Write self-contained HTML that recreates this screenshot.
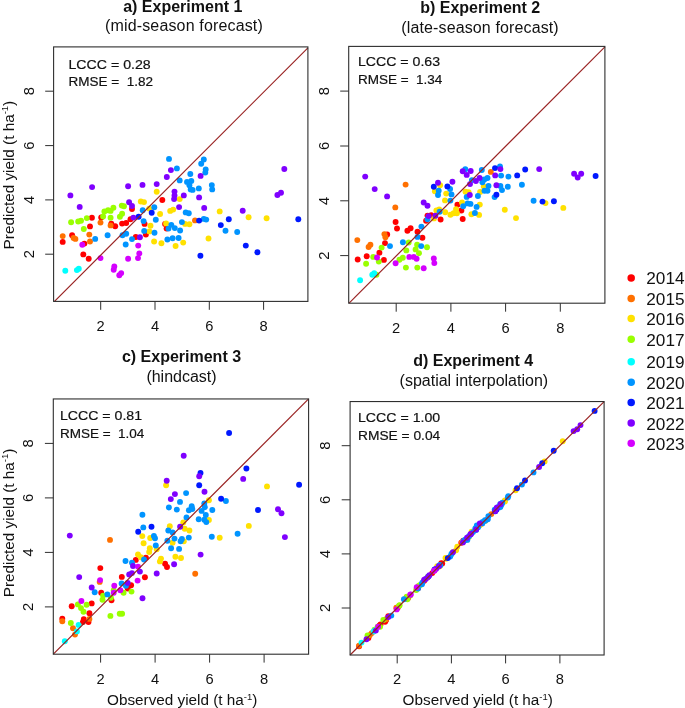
<!DOCTYPE html>
<html><head><meta charset="utf-8"><title>Experiments</title>
<style>html,body{margin:0;padding:0;background:#fff}svg{display:block}text{font-family:"Liberation Sans",Arial,sans-serif;fill:#111}</style></head><body>
<svg width="685" height="708" viewBox="0 0 685 708">
<rect width="685" height="708" fill="#fff"/>
<g id="panel-a">
<g>
<circle cx="91.9" cy="217.8" r="2.95" fill="#FF0000"/>
<circle cx="90.0" cy="226.4" r="2.95" fill="#FF0000"/>
<circle cx="101.2" cy="217.4" r="2.95" fill="#FF0000"/>
<circle cx="111.3" cy="223.6" r="2.95" fill="#FF0000"/>
<circle cx="115.2" cy="226.2" r="2.95" fill="#FF0000"/>
<circle cx="122.1" cy="223.6" r="2.95" fill="#FF0000"/>
<circle cx="126.2" cy="223.0" r="2.95" fill="#FF0000"/>
<circle cx="130.5" cy="219.3" r="2.95" fill="#FF0000"/>
<circle cx="132.0" cy="209.0" r="2.95" fill="#FF0000"/>
<circle cx="162.3" cy="200.0" r="2.95" fill="#FF0000"/>
<circle cx="144.6" cy="223.9" r="2.95" fill="#FF0000"/>
<circle cx="145.9" cy="234.6" r="2.95" fill="#FF0000"/>
<circle cx="135.8" cy="237.0" r="2.95" fill="#FF0000"/>
<circle cx="72.1" cy="235.2" r="2.95" fill="#FF0000"/>
<circle cx="62.7" cy="241.9" r="2.95" fill="#FF0000"/>
<circle cx="84.4" cy="243.6" r="2.95" fill="#FF0000"/>
<circle cx="83.3" cy="254.4" r="2.95" fill="#FF0000"/>
<circle cx="88.7" cy="258.7" r="2.95" fill="#FF0000"/>
<circle cx="165.1" cy="223.9" r="2.95" fill="#FF0000"/>
<circle cx="166.6" cy="228.6" r="2.95" fill="#FF0000"/>
<circle cx="62.7" cy="236.1" r="2.95" fill="#FF7000"/>
<circle cx="73.6" cy="238.0" r="2.95" fill="#FF7000"/>
<circle cx="75.4" cy="238.9" r="2.95" fill="#FF7000"/>
<circle cx="89.3" cy="234.6" r="2.95" fill="#FF7000"/>
<circle cx="90.0" cy="241.5" r="2.95" fill="#FF7000"/>
<circle cx="100.5" cy="222.6" r="2.95" fill="#FF7000"/>
<circle cx="110.6" cy="225.4" r="2.95" fill="#FF7000"/>
<circle cx="195.0" cy="220.4" r="2.95" fill="#FF7000"/>
<circle cx="156.7" cy="191.8" r="2.95" fill="#FFE100"/>
<circle cx="140.8" cy="201.5" r="2.95" fill="#FFE100"/>
<circle cx="144.0" cy="202.1" r="2.95" fill="#FFE100"/>
<circle cx="149.2" cy="208.6" r="2.95" fill="#FFE100"/>
<circle cx="160.1" cy="214.0" r="2.95" fill="#FFE100"/>
<circle cx="170.2" cy="210.9" r="2.95" fill="#FFE100"/>
<circle cx="173.2" cy="209.6" r="2.95" fill="#FFE100"/>
<circle cx="166.1" cy="223.4" r="2.95" fill="#FFE100"/>
<circle cx="150.5" cy="225.8" r="2.95" fill="#FFE100"/>
<circle cx="149.4" cy="231.4" r="2.95" fill="#FFE100"/>
<circle cx="154.1" cy="241.5" r="2.95" fill="#FFE100"/>
<circle cx="161.4" cy="243.2" r="2.95" fill="#FFE100"/>
<circle cx="175.6" cy="246.0" r="2.95" fill="#FFE100"/>
<circle cx="179.7" cy="199.1" r="2.95" fill="#FFE100"/>
<circle cx="219.7" cy="211.4" r="2.95" fill="#FFE100"/>
<circle cx="248.6" cy="217.2" r="2.95" fill="#FFE100"/>
<circle cx="266.6" cy="218.3" r="2.95" fill="#FFE100"/>
<circle cx="185.1" cy="223.9" r="2.95" fill="#FFE100"/>
<circle cx="189.4" cy="224.3" r="2.95" fill="#FFE100"/>
<circle cx="208.5" cy="238.5" r="2.95" fill="#FFE100"/>
<circle cx="183.2" cy="242.6" r="2.95" fill="#FFE100"/>
<circle cx="71.1" cy="222.3" r="2.95" fill="#99FF00"/>
<circle cx="78.2" cy="221.5" r="2.95" fill="#99FF00"/>
<circle cx="81.0" cy="220.8" r="2.95" fill="#99FF00"/>
<circle cx="86.8" cy="218.1" r="2.95" fill="#99FF00"/>
<circle cx="83.8" cy="229.0" r="2.95" fill="#99FF00"/>
<circle cx="103.1" cy="216.5" r="2.95" fill="#99FF00"/>
<circle cx="104.4" cy="211.4" r="2.95" fill="#99FF00"/>
<circle cx="108.1" cy="210.3" r="2.95" fill="#99FF00"/>
<circle cx="110.6" cy="210.9" r="2.95" fill="#99FF00"/>
<circle cx="113.4" cy="207.7" r="2.95" fill="#99FF00"/>
<circle cx="110.6" cy="217.8" r="2.95" fill="#99FF00"/>
<circle cx="121.8" cy="205.6" r="2.95" fill="#99FF00"/>
<circle cx="124.0" cy="206.2" r="2.95" fill="#99FF00"/>
<circle cx="122.1" cy="213.7" r="2.95" fill="#99FF00"/>
<circle cx="119.9" cy="216.8" r="2.95" fill="#99FF00"/>
<circle cx="65.3" cy="270.8" r="2.95" fill="#00FFFF"/>
<circle cx="76.9" cy="270.1" r="2.95" fill="#00FFFF"/>
<circle cx="78.8" cy="268.8" r="2.95" fill="#00FFFF"/>
<circle cx="169.0" cy="158.9" r="2.95" fill="#0094FF"/>
<circle cx="176.9" cy="168.4" r="2.95" fill="#0094FF"/>
<circle cx="179.7" cy="180.4" r="2.95" fill="#0094FF"/>
<circle cx="142.7" cy="210.3" r="2.95" fill="#0094FF"/>
<circle cx="154.3" cy="207.3" r="2.95" fill="#0094FF"/>
<circle cx="143.6" cy="221.1" r="2.95" fill="#0094FF"/>
<circle cx="155.8" cy="219.8" r="2.95" fill="#0094FF"/>
<circle cx="144.2" cy="230.9" r="2.95" fill="#0094FF"/>
<circle cx="154.5" cy="232.7" r="2.95" fill="#0094FF"/>
<circle cx="95.2" cy="238.9" r="2.95" fill="#0094FF"/>
<circle cx="107.6" cy="235.3" r="2.95" fill="#0094FF"/>
<circle cx="122.5" cy="235.3" r="2.95" fill="#0094FF"/>
<circle cx="126.2" cy="233.8" r="2.95" fill="#0094FF"/>
<circle cx="132.0" cy="239.1" r="2.95" fill="#0094FF"/>
<circle cx="125.7" cy="244.5" r="2.95" fill="#0094FF"/>
<circle cx="168.5" cy="228.6" r="2.95" fill="#0094FF"/>
<circle cx="171.3" cy="224.9" r="2.95" fill="#0094FF"/>
<circle cx="174.8" cy="228.1" r="2.95" fill="#0094FF"/>
<circle cx="167.4" cy="239.5" r="2.95" fill="#0094FF"/>
<circle cx="172.6" cy="238.3" r="2.95" fill="#0094FF"/>
<circle cx="178.6" cy="238.0" r="2.95" fill="#0094FF"/>
<circle cx="180.1" cy="230.5" r="2.95" fill="#0094FF"/>
<circle cx="203.8" cy="159.5" r="2.95" fill="#0094FF"/>
<circle cx="201.2" cy="163.8" r="2.95" fill="#0094FF"/>
<circle cx="205.7" cy="169.4" r="2.95" fill="#0094FF"/>
<circle cx="205.3" cy="172.6" r="2.95" fill="#0094FF"/>
<circle cx="190.3" cy="174.0" r="2.95" fill="#0094FF"/>
<circle cx="187.0" cy="181.9" r="2.95" fill="#0094FF"/>
<circle cx="191.3" cy="181.0" r="2.95" fill="#0094FF"/>
<circle cx="189.4" cy="185.3" r="2.95" fill="#0094FF"/>
<circle cx="190.7" cy="189.4" r="2.95" fill="#0094FF"/>
<circle cx="192.6" cy="189.9" r="2.95" fill="#0094FF"/>
<circle cx="198.8" cy="188.4" r="2.95" fill="#0094FF"/>
<circle cx="211.8" cy="185.1" r="2.95" fill="#0094FF"/>
<circle cx="212.2" cy="189.4" r="2.95" fill="#0094FF"/>
<circle cx="185.7" cy="212.4" r="2.95" fill="#0094FF"/>
<circle cx="188.8" cy="213.3" r="2.95" fill="#0094FF"/>
<circle cx="203.8" cy="218.9" r="2.95" fill="#0094FF"/>
<circle cx="206.2" cy="219.6" r="2.95" fill="#0094FF"/>
<circle cx="181.9" cy="222.1" r="2.95" fill="#0094FF"/>
<circle cx="225.5" cy="230.7" r="2.95" fill="#0094FF"/>
<circle cx="237.2" cy="232.0" r="2.95" fill="#0094FF"/>
<circle cx="151.7" cy="212.7" r="2.95" fill="#0018FF"/>
<circle cx="138.6" cy="216.8" r="2.95" fill="#0018FF"/>
<circle cx="199.1" cy="220.6" r="2.95" fill="#0018FF"/>
<circle cx="228.8" cy="219.3" r="2.95" fill="#0018FF"/>
<circle cx="220.8" cy="225.1" r="2.95" fill="#0018FF"/>
<circle cx="245.8" cy="245.6" r="2.95" fill="#0018FF"/>
<circle cx="257.4" cy="252.3" r="2.95" fill="#0018FF"/>
<circle cx="200.4" cy="255.7" r="2.95" fill="#0018FF"/>
<circle cx="298.3" cy="219.3" r="2.95" fill="#0018FF"/>
<circle cx="70.4" cy="195.4" r="2.95" fill="#7F00FF"/>
<circle cx="92.1" cy="187.1" r="2.95" fill="#7F00FF"/>
<circle cx="79.7" cy="206.9" r="2.95" fill="#7F00FF"/>
<circle cx="128.1" cy="186.2" r="2.95" fill="#7F00FF"/>
<circle cx="142.5" cy="184.9" r="2.95" fill="#7F00FF"/>
<circle cx="156.7" cy="184.1" r="2.95" fill="#7F00FF"/>
<circle cx="166.8" cy="177.0" r="2.95" fill="#7F00FF"/>
<circle cx="170.9" cy="170.1" r="2.95" fill="#7F00FF"/>
<circle cx="129.1" cy="202.3" r="2.95" fill="#7F00FF"/>
<circle cx="132.0" cy="206.0" r="2.95" fill="#7F00FF"/>
<circle cx="133.4" cy="217.6" r="2.95" fill="#7F00FF"/>
<circle cx="139.9" cy="237.2" r="2.95" fill="#7F00FF"/>
<circle cx="174.5" cy="191.6" r="2.95" fill="#7F00FF"/>
<circle cx="174.5" cy="195.4" r="2.95" fill="#7F00FF"/>
<circle cx="174.1" cy="199.1" r="2.95" fill="#7F00FF"/>
<circle cx="179.1" cy="207.1" r="2.95" fill="#7F00FF"/>
<circle cx="200.6" cy="175.9" r="2.95" fill="#7F00FF"/>
<circle cx="183.8" cy="195.4" r="2.95" fill="#7F00FF"/>
<circle cx="199.1" cy="197.4" r="2.95" fill="#7F00FF"/>
<circle cx="204.2" cy="207.9" r="2.95" fill="#7F00FF"/>
<circle cx="242.7" cy="210.7" r="2.95" fill="#7F00FF"/>
<circle cx="284.3" cy="169.0" r="2.95" fill="#7F00FF"/>
<circle cx="277.4" cy="195.0" r="2.95" fill="#7F00FF"/>
<circle cx="281.0" cy="192.7" r="2.95" fill="#7F00FF"/>
<circle cx="82.3" cy="244.7" r="2.95" fill="#D400FF"/>
<circle cx="100.5" cy="258.1" r="2.95" fill="#D400FF"/>
<circle cx="128.1" cy="258.7" r="2.95" fill="#D400FF"/>
<circle cx="138.2" cy="245.6" r="2.95" fill="#D400FF"/>
<circle cx="139.3" cy="253.5" r="2.95" fill="#D400FF"/>
<circle cx="138.0" cy="258.1" r="2.95" fill="#D400FF"/>
<circle cx="114.3" cy="266.4" r="2.95" fill="#D400FF"/>
<circle cx="113.7" cy="269.7" r="2.95" fill="#D400FF"/>
<circle cx="121.2" cy="273.1" r="2.95" fill="#D400FF"/>
<circle cx="119.3" cy="275.3" r="2.95" fill="#D400FF"/>
</g>
<line x1="54.5" y1="301.4" x2="307.90000000000003" y2="47.8" stroke="#992222" stroke-width="1.2"/>
<rect x="53.6" y="46.9" width="254.3" height="254.5" fill="none" stroke="#2e2e2e" stroke-width="1.1"/>
<line x1="100.7" y1="301.4" x2="100.7" y2="309.8" stroke="#2e2e2e" stroke-width="1"/>
<text x="100.7" y="330.8" font-size="14.7" text-anchor="middle">2</text>
<line x1="45.2" y1="254.2" x2="53.6" y2="254.2" stroke="#2e2e2e" stroke-width="1"/>
<text transform="translate(33.8,254.2) rotate(-90)" font-size="14.7" text-anchor="middle">2</text>
<line x1="155.0" y1="301.4" x2="155.0" y2="309.8" stroke="#2e2e2e" stroke-width="1"/>
<text x="155.0" y="330.8" font-size="14.7" text-anchor="middle">4</text>
<line x1="45.2" y1="199.9" x2="53.6" y2="199.9" stroke="#2e2e2e" stroke-width="1"/>
<text transform="translate(33.8,199.9) rotate(-90)" font-size="14.7" text-anchor="middle">4</text>
<line x1="209.3" y1="301.4" x2="209.3" y2="309.8" stroke="#2e2e2e" stroke-width="1"/>
<text x="209.3" y="330.8" font-size="14.7" text-anchor="middle">6</text>
<line x1="45.2" y1="145.6" x2="53.6" y2="145.6" stroke="#2e2e2e" stroke-width="1"/>
<text transform="translate(33.8,145.6) rotate(-90)" font-size="14.7" text-anchor="middle">6</text>
<line x1="263.6" y1="301.4" x2="263.6" y2="309.8" stroke="#2e2e2e" stroke-width="1"/>
<text x="263.6" y="330.8" font-size="14.7" text-anchor="middle">8</text>
<line x1="45.2" y1="91.2" x2="53.6" y2="91.2" stroke="#2e2e2e" stroke-width="1"/>
<text transform="translate(33.8,91.2) rotate(-90)" font-size="14.7" text-anchor="middle">8</text>
<text x="123.2" y="11.6" font-size="16" font-weight="bold">a) Experiment 1</text>
<text x="105.0" y="31.1" font-size="16" textLength="157.8" lengthAdjust="spacing">(mid-season forecast)</text>
<text x="68.5" y="68.6" font-size="13.5" stroke="#111" stroke-width="0.2" textLength="82.2" lengthAdjust="spacingAndGlyphs" xml:space="preserve">LCCC = 0.28</text>
<text x="68.5" y="86.4" font-size="13.5" stroke="#111" stroke-width="0.2" textLength="84.5" lengthAdjust="spacingAndGlyphs" xml:space="preserve">RMSE =  1.82</text>
<text transform="translate(13.9,175.1) rotate(-90)" font-size="15.3" text-anchor="middle" textLength="148.6" lengthAdjust="spacing">Predicted yield (t ha<tspan font-size="9.5" dy="-5.5">-1</tspan><tspan dy="5.5">)</tspan></text>
</g>
<g id="panel-b">
<g>
<circle cx="395.6" cy="222.0" r="2.95" fill="#FF0000"/>
<circle cx="397.0" cy="228.5" r="2.95" fill="#FF0000"/>
<circle cx="407.4" cy="230.7" r="2.95" fill="#FF0000"/>
<circle cx="410.6" cy="228.3" r="2.95" fill="#FF0000"/>
<circle cx="417.5" cy="231.7" r="2.95" fill="#FF0000"/>
<circle cx="422.4" cy="237.8" r="2.95" fill="#FF0000"/>
<circle cx="387.2" cy="234.5" r="2.95" fill="#FF0000"/>
<circle cx="385.0" cy="243.1" r="2.95" fill="#FF0000"/>
<circle cx="379.4" cy="252.8" r="2.95" fill="#FF0000"/>
<circle cx="366.7" cy="256.3" r="2.95" fill="#FF0000"/>
<circle cx="357.7" cy="259.5" r="2.95" fill="#FF0000"/>
<circle cx="383.9" cy="259.9" r="2.95" fill="#FF0000"/>
<circle cx="457.4" cy="204.7" r="2.95" fill="#FF0000"/>
<circle cx="461.4" cy="210.5" r="2.95" fill="#FF0000"/>
<circle cx="462.7" cy="219.0" r="2.95" fill="#FF0000"/>
<circle cx="440.6" cy="219.5" r="2.95" fill="#FF0000"/>
<circle cx="427.5" cy="215.6" r="2.95" fill="#FF0000"/>
<circle cx="426.1" cy="220.7" r="2.95" fill="#FF0000"/>
<circle cx="431.2" cy="215.1" r="2.95" fill="#FF0000"/>
<circle cx="405.6" cy="184.6" r="2.95" fill="#FF7000"/>
<circle cx="395.3" cy="207.4" r="2.95" fill="#FF7000"/>
<circle cx="357.3" cy="240.1" r="2.95" fill="#FF7000"/>
<circle cx="384.4" cy="234.1" r="2.95" fill="#FF7000"/>
<circle cx="385.4" cy="237.3" r="2.95" fill="#FF7000"/>
<circle cx="370.4" cy="244.8" r="2.95" fill="#FF7000"/>
<circle cx="368.6" cy="247.0" r="2.95" fill="#FF7000"/>
<circle cx="490.8" cy="171.9" r="2.95" fill="#FF7000"/>
<circle cx="545.5" cy="203.1" r="2.95" fill="#FFE100"/>
<circle cx="563.3" cy="207.9" r="2.95" fill="#FFE100"/>
<circle cx="440.1" cy="185.2" r="2.95" fill="#FFE100"/>
<circle cx="434.9" cy="191.3" r="2.95" fill="#FFE100"/>
<circle cx="446.2" cy="193.6" r="2.95" fill="#FFE100"/>
<circle cx="445.0" cy="200.4" r="2.95" fill="#FFE100"/>
<circle cx="465.5" cy="191.8" r="2.95" fill="#FFE100"/>
<circle cx="468.6" cy="192.2" r="2.95" fill="#FFE100"/>
<circle cx="462.0" cy="202.5" r="2.95" fill="#FFE100"/>
<circle cx="436.4" cy="210.5" r="2.95" fill="#FFE100"/>
<circle cx="439.2" cy="209.5" r="2.95" fill="#FFE100"/>
<circle cx="445.2" cy="212.3" r="2.95" fill="#FFE100"/>
<circle cx="450.4" cy="214.7" r="2.95" fill="#FFE100"/>
<circle cx="453.6" cy="213.3" r="2.95" fill="#FFE100"/>
<circle cx="456.0" cy="209.1" r="2.95" fill="#FFE100"/>
<circle cx="456.9" cy="213.3" r="2.95" fill="#FFE100"/>
<circle cx="471.4" cy="214.2" r="2.95" fill="#FFE100"/>
<circle cx="434.0" cy="218.4" r="2.95" fill="#FFE100"/>
<circle cx="483.8" cy="186.4" r="2.95" fill="#FFE100"/>
<circle cx="480.1" cy="192.0" r="2.95" fill="#FFE100"/>
<circle cx="479.8" cy="204.6" r="2.95" fill="#FFE100"/>
<circle cx="479.1" cy="214.9" r="2.95" fill="#FFE100"/>
<circle cx="504.8" cy="209.7" r="2.95" fill="#FFE100"/>
<circle cx="516.0" cy="218.1" r="2.95" fill="#FFE100"/>
<circle cx="381.6" cy="247.6" r="2.95" fill="#99FF00"/>
<circle cx="373.2" cy="256.9" r="2.95" fill="#99FF00"/>
<circle cx="366.1" cy="263.8" r="2.95" fill="#99FF00"/>
<circle cx="378.8" cy="261.6" r="2.95" fill="#99FF00"/>
<circle cx="376.4" cy="274.7" r="2.95" fill="#99FF00"/>
<circle cx="408.7" cy="242.5" r="2.95" fill="#99FF00"/>
<circle cx="406.3" cy="250.4" r="2.95" fill="#99FF00"/>
<circle cx="417.1" cy="244.8" r="2.95" fill="#99FF00"/>
<circle cx="415.6" cy="249.4" r="2.95" fill="#99FF00"/>
<circle cx="419.0" cy="253.2" r="2.95" fill="#99FF00"/>
<circle cx="427.0" cy="247.2" r="2.95" fill="#99FF00"/>
<circle cx="402.8" cy="257.8" r="2.95" fill="#99FF00"/>
<circle cx="399.4" cy="259.7" r="2.95" fill="#99FF00"/>
<circle cx="405.9" cy="267.6" r="2.95" fill="#99FF00"/>
<circle cx="417.3" cy="267.6" r="2.95" fill="#99FF00"/>
<circle cx="360.1" cy="280.3" r="2.95" fill="#00FFFF"/>
<circle cx="372.3" cy="274.7" r="2.95" fill="#00FFFF"/>
<circle cx="374.2" cy="273.3" r="2.95" fill="#00FFFF"/>
<circle cx="390.0" cy="246.1" r="2.95" fill="#0094FF"/>
<circle cx="402.9" cy="242.3" r="2.95" fill="#0094FF"/>
<circle cx="421.2" cy="246.1" r="2.95" fill="#0094FF"/>
<circle cx="417.5" cy="236.9" r="2.95" fill="#0094FF"/>
<circle cx="421.4" cy="226.6" r="2.95" fill="#0094FF"/>
<circle cx="465.3" cy="169.3" r="2.95" fill="#0094FF"/>
<circle cx="438.7" cy="190.8" r="2.95" fill="#0094FF"/>
<circle cx="438.0" cy="195.0" r="2.95" fill="#0094FF"/>
<circle cx="450.1" cy="189.0" r="2.95" fill="#0094FF"/>
<circle cx="451.5" cy="194.4" r="2.95" fill="#0094FF"/>
<circle cx="450.4" cy="200.6" r="2.95" fill="#0094FF"/>
<circle cx="466.7" cy="196.9" r="2.95" fill="#0094FF"/>
<circle cx="463.2" cy="206.2" r="2.95" fill="#0094FF"/>
<circle cx="467.6" cy="203.4" r="2.95" fill="#0094FF"/>
<circle cx="470.5" cy="203.9" r="2.95" fill="#0094FF"/>
<circle cx="439.6" cy="211.7" r="2.95" fill="#0094FF"/>
<circle cx="427.5" cy="219.3" r="2.95" fill="#0094FF"/>
<circle cx="471.9" cy="180.1" r="2.95" fill="#0094FF"/>
<circle cx="481.8" cy="170.0" r="2.95" fill="#0094FF"/>
<circle cx="500.0" cy="166.5" r="2.95" fill="#0094FF"/>
<circle cx="487.5" cy="178.0" r="2.95" fill="#0094FF"/>
<circle cx="484.3" cy="179.4" r="2.95" fill="#0094FF"/>
<circle cx="482.4" cy="182.2" r="2.95" fill="#0094FF"/>
<circle cx="501.1" cy="175.6" r="2.95" fill="#0094FF"/>
<circle cx="508.4" cy="176.6" r="2.95" fill="#0094FF"/>
<circle cx="488.5" cy="185.9" r="2.95" fill="#0094FF"/>
<circle cx="484.5" cy="190.8" r="2.95" fill="#0094FF"/>
<circle cx="487.5" cy="190.8" r="2.95" fill="#0094FF"/>
<circle cx="500.4" cy="185.9" r="2.95" fill="#0094FF"/>
<circle cx="502.0" cy="190.1" r="2.95" fill="#0094FF"/>
<circle cx="507.8" cy="186.8" r="2.95" fill="#0094FF"/>
<circle cx="521.9" cy="184.8" r="2.95" fill="#0094FF"/>
<circle cx="477.9" cy="196.0" r="2.95" fill="#0094FF"/>
<circle cx="494.6" cy="197.1" r="2.95" fill="#0094FF"/>
<circle cx="533.6" cy="200.8" r="2.95" fill="#0094FF"/>
<circle cx="476.6" cy="206.9" r="2.95" fill="#0094FF"/>
<circle cx="474.9" cy="213.0" r="2.95" fill="#0094FF"/>
<circle cx="595.6" cy="176.0" r="2.95" fill="#0018FF"/>
<circle cx="542.5" cy="201.6" r="2.95" fill="#0018FF"/>
<circle cx="553.9" cy="201.2" r="2.95" fill="#0018FF"/>
<circle cx="433.8" cy="186.8" r="2.95" fill="#0018FF"/>
<circle cx="447.4" cy="186.4" r="2.95" fill="#0018FF"/>
<circle cx="495.0" cy="168.1" r="2.95" fill="#0018FF"/>
<circle cx="525.2" cy="169.5" r="2.95" fill="#0018FF"/>
<circle cx="517.2" cy="175.4" r="2.95" fill="#0018FF"/>
<circle cx="496.4" cy="194.8" r="2.95" fill="#0018FF"/>
<circle cx="365.2" cy="176.6" r="2.95" fill="#7F00FF"/>
<circle cx="374.7" cy="189.1" r="2.95" fill="#7F00FF"/>
<circle cx="387.1" cy="196.4" r="2.95" fill="#7F00FF"/>
<circle cx="539.2" cy="169.1" r="2.95" fill="#7F00FF"/>
<circle cx="574.1" cy="173.8" r="2.95" fill="#7F00FF"/>
<circle cx="581.2" cy="173.8" r="2.95" fill="#7F00FF"/>
<circle cx="577.7" cy="177.5" r="2.95" fill="#7F00FF"/>
<circle cx="462.7" cy="171.2" r="2.95" fill="#7F00FF"/>
<circle cx="466.7" cy="174.9" r="2.95" fill="#7F00FF"/>
<circle cx="470.7" cy="171.0" r="2.95" fill="#7F00FF"/>
<circle cx="438.0" cy="182.7" r="2.95" fill="#7F00FF"/>
<circle cx="452.4" cy="181.7" r="2.95" fill="#7F00FF"/>
<circle cx="423.7" cy="202.5" r="2.95" fill="#7F00FF"/>
<circle cx="427.5" cy="205.8" r="2.95" fill="#7F00FF"/>
<circle cx="470.0" cy="184.1" r="2.95" fill="#7F00FF"/>
<circle cx="469.8" cy="195.0" r="2.95" fill="#7F00FF"/>
<circle cx="428.6" cy="216.1" r="2.95" fill="#7F00FF"/>
<circle cx="435.4" cy="215.8" r="2.95" fill="#7F00FF"/>
<circle cx="479.6" cy="178.0" r="2.95" fill="#7F00FF"/>
<circle cx="475.9" cy="181.0" r="2.95" fill="#7F00FF"/>
<circle cx="500.4" cy="169.1" r="2.95" fill="#7F00FF"/>
<circle cx="495.2" cy="175.4" r="2.95" fill="#7F00FF"/>
<circle cx="496.4" cy="185.2" r="2.95" fill="#7F00FF"/>
<circle cx="377.0" cy="257.5" r="2.95" fill="#D400FF"/>
<circle cx="395.6" cy="263.3" r="2.95" fill="#D400FF"/>
<circle cx="409.3" cy="256.9" r="2.95" fill="#D400FF"/>
<circle cx="413.8" cy="256.9" r="2.95" fill="#D400FF"/>
<circle cx="416.6" cy="258.8" r="2.95" fill="#D400FF"/>
<circle cx="433.8" cy="258.4" r="2.95" fill="#D400FF"/>
<circle cx="434.3" cy="263.1" r="2.95" fill="#D400FF"/>
<circle cx="423.7" cy="268.3" r="2.95" fill="#D400FF"/>
</g>
<line x1="349.09999999999997" y1="303.2" x2="604.9" y2="46.8" stroke="#992222" stroke-width="1.2"/>
<rect x="348.7" y="46.4" width="256.2" height="256.8" fill="none" stroke="#2e2e2e" stroke-width="1.1"/>
<line x1="396.2" y1="303.2" x2="396.2" y2="311.7" stroke="#2e2e2e" stroke-width="1"/>
<text x="396.2" y="332.8" font-size="14.7" text-anchor="middle">2</text>
<line x1="340.2" y1="255.6" x2="348.7" y2="255.6" stroke="#2e2e2e" stroke-width="1"/>
<text transform="translate(328.7,255.6) rotate(-90)" font-size="14.7" text-anchor="middle">2</text>
<line x1="450.9" y1="303.2" x2="450.9" y2="311.7" stroke="#2e2e2e" stroke-width="1"/>
<text x="450.9" y="332.8" font-size="14.7" text-anchor="middle">4</text>
<line x1="340.2" y1="200.8" x2="348.7" y2="200.8" stroke="#2e2e2e" stroke-width="1"/>
<text transform="translate(328.7,200.8) rotate(-90)" font-size="14.7" text-anchor="middle">4</text>
<line x1="505.6" y1="303.2" x2="505.6" y2="311.7" stroke="#2e2e2e" stroke-width="1"/>
<text x="505.6" y="332.8" font-size="14.7" text-anchor="middle">6</text>
<line x1="340.2" y1="146.0" x2="348.7" y2="146.0" stroke="#2e2e2e" stroke-width="1"/>
<text transform="translate(328.7,146.0) rotate(-90)" font-size="14.7" text-anchor="middle">6</text>
<line x1="560.3" y1="303.2" x2="560.3" y2="311.7" stroke="#2e2e2e" stroke-width="1"/>
<text x="560.3" y="332.8" font-size="14.7" text-anchor="middle">8</text>
<line x1="340.2" y1="91.1" x2="348.7" y2="91.1" stroke="#2e2e2e" stroke-width="1"/>
<text transform="translate(328.7,91.1) rotate(-90)" font-size="14.7" text-anchor="middle">8</text>
<text x="420.2" y="13.1" font-size="16" font-weight="bold">b) Experiment 2</text>
<text x="401.3" y="32.5" font-size="16" textLength="157.4" lengthAdjust="spacing">(late-season forecast)</text>
<text x="357.9" y="66.3" font-size="13.5" stroke="#111" stroke-width="0.2" textLength="82.2" lengthAdjust="spacingAndGlyphs" xml:space="preserve">LCCC = 0.63</text>
<text x="357.9" y="84.3" font-size="13.5" stroke="#111" stroke-width="0.2" textLength="84.5" lengthAdjust="spacingAndGlyphs" xml:space="preserve">RMSE =  1.34</text>
</g>
<g id="panel-c">
<g>
<circle cx="100.3" cy="568.1" r="2.95" fill="#FF0000"/>
<circle cx="71.7" cy="606.2" r="2.95" fill="#FF0000"/>
<circle cx="91.7" cy="603.4" r="2.95" fill="#FF0000"/>
<circle cx="89.4" cy="613.3" r="2.95" fill="#FF0000"/>
<circle cx="83.8" cy="619.3" r="2.95" fill="#FF0000"/>
<circle cx="82.9" cy="622.1" r="2.95" fill="#FF0000"/>
<circle cx="88.5" cy="622.1" r="2.95" fill="#FF0000"/>
<circle cx="62.3" cy="618.7" r="2.95" fill="#FF0000"/>
<circle cx="101.2" cy="592.8" r="2.95" fill="#FF0000"/>
<circle cx="111.5" cy="600.2" r="2.95" fill="#FF0000"/>
<circle cx="121.8" cy="576.9" r="2.95" fill="#FF0000"/>
<circle cx="135.8" cy="559.9" r="2.95" fill="#FF0000"/>
<circle cx="145.9" cy="557.6" r="2.95" fill="#FF0000"/>
<circle cx="144.9" cy="577.3" r="2.95" fill="#FF0000"/>
<circle cx="131.1" cy="585.3" r="2.95" fill="#FF0000"/>
<circle cx="127.7" cy="588.5" r="2.95" fill="#FF0000"/>
<circle cx="165.1" cy="563.8" r="2.95" fill="#FF0000"/>
<circle cx="167.0" cy="567.0" r="2.95" fill="#FF0000"/>
<circle cx="110.0" cy="539.9" r="2.95" fill="#FF7000"/>
<circle cx="62.3" cy="621.2" r="2.95" fill="#FF7000"/>
<circle cx="73.0" cy="628.3" r="2.95" fill="#FF7000"/>
<circle cx="75.0" cy="634.6" r="2.95" fill="#FF7000"/>
<circle cx="89.4" cy="618.9" r="2.95" fill="#FF7000"/>
<circle cx="99.7" cy="581.9" r="2.95" fill="#FF7000"/>
<circle cx="195.2" cy="573.7" r="2.95" fill="#FF7000"/>
<circle cx="142.3" cy="536.1" r="2.95" fill="#FFE100"/>
<circle cx="143.6" cy="543.2" r="2.95" fill="#FFE100"/>
<circle cx="150.2" cy="538.0" r="2.95" fill="#FFE100"/>
<circle cx="149.8" cy="548.3" r="2.95" fill="#FFE100"/>
<circle cx="149.2" cy="552.0" r="2.95" fill="#FFE100"/>
<circle cx="138.0" cy="554.5" r="2.95" fill="#FFE100"/>
<circle cx="140.8" cy="557.3" r="2.95" fill="#FFE100"/>
<circle cx="161.0" cy="558.6" r="2.95" fill="#FFE100"/>
<circle cx="159.9" cy="561.4" r="2.95" fill="#FFE100"/>
<circle cx="175.4" cy="556.7" r="2.95" fill="#FFE100"/>
<circle cx="169.8" cy="526.2" r="2.95" fill="#FFE100"/>
<circle cx="172.6" cy="542.7" r="2.95" fill="#FFE100"/>
<circle cx="156.7" cy="549.2" r="2.95" fill="#FFE100"/>
<circle cx="219.7" cy="537.8" r="2.95" fill="#FFE100"/>
<circle cx="248.8" cy="525.9" r="2.95" fill="#FFE100"/>
<circle cx="189.4" cy="530.5" r="2.95" fill="#FFE100"/>
<circle cx="184.7" cy="528.7" r="2.95" fill="#FFE100"/>
<circle cx="181.0" cy="558.0" r="2.95" fill="#FFE100"/>
<circle cx="183.8" cy="541.2" r="2.95" fill="#FFE100"/>
<circle cx="166.1" cy="485.3" r="2.95" fill="#FFE100"/>
<circle cx="208.9" cy="500.2" r="2.95" fill="#FFE100"/>
<circle cx="183.3" cy="522.5" r="2.95" fill="#FFE100"/>
<circle cx="208.9" cy="519.9" r="2.95" fill="#FFE100"/>
<circle cx="267.0" cy="486.4" r="2.95" fill="#FFE100"/>
<circle cx="77.9" cy="604.4" r="2.95" fill="#99FF00"/>
<circle cx="81.0" cy="608.1" r="2.95" fill="#99FF00"/>
<circle cx="86.6" cy="604.7" r="2.95" fill="#99FF00"/>
<circle cx="83.5" cy="611.8" r="2.95" fill="#99FF00"/>
<circle cx="70.8" cy="623.0" r="2.95" fill="#99FF00"/>
<circle cx="103.1" cy="595.6" r="2.95" fill="#99FF00"/>
<circle cx="102.5" cy="599.7" r="2.95" fill="#99FF00"/>
<circle cx="110.9" cy="597.8" r="2.95" fill="#99FF00"/>
<circle cx="110.4" cy="615.9" r="2.95" fill="#99FF00"/>
<circle cx="119.7" cy="613.7" r="2.95" fill="#99FF00"/>
<circle cx="122.1" cy="613.7" r="2.95" fill="#99FF00"/>
<circle cx="123.6" cy="592.8" r="2.95" fill="#99FF00"/>
<circle cx="131.5" cy="591.6" r="2.95" fill="#99FF00"/>
<circle cx="113.7" cy="590.3" r="2.95" fill="#99FF00"/>
<circle cx="64.8" cy="641.3" r="2.95" fill="#00FFFF"/>
<circle cx="76.9" cy="631.4" r="2.95" fill="#00FFFF"/>
<circle cx="78.6" cy="624.9" r="2.95" fill="#00FFFF"/>
<circle cx="94.7" cy="592.2" r="2.95" fill="#0094FF"/>
<circle cx="107.4" cy="594.4" r="2.95" fill="#0094FF"/>
<circle cx="121.6" cy="583.4" r="2.95" fill="#0094FF"/>
<circle cx="125.5" cy="561.0" r="2.95" fill="#0094FF"/>
<circle cx="132.0" cy="562.7" r="2.95" fill="#0094FF"/>
<circle cx="144.0" cy="559.5" r="2.95" fill="#0094FF"/>
<circle cx="143.3" cy="527.4" r="2.95" fill="#0094FF"/>
<circle cx="153.9" cy="536.0" r="2.95" fill="#0094FF"/>
<circle cx="155.0" cy="538.2" r="2.95" fill="#0094FF"/>
<circle cx="155.8" cy="545.5" r="2.95" fill="#0094FF"/>
<circle cx="168.3" cy="530.5" r="2.95" fill="#0094FF"/>
<circle cx="172.6" cy="532.4" r="2.95" fill="#0094FF"/>
<circle cx="174.5" cy="538.6" r="2.95" fill="#0094FF"/>
<circle cx="167.4" cy="540.8" r="2.95" fill="#0094FF"/>
<circle cx="171.1" cy="548.3" r="2.95" fill="#0094FF"/>
<circle cx="179.1" cy="548.9" r="2.95" fill="#0094FF"/>
<circle cx="180.6" cy="541.2" r="2.95" fill="#0094FF"/>
<circle cx="125.9" cy="585.7" r="2.95" fill="#0094FF"/>
<circle cx="211.8" cy="536.7" r="2.95" fill="#0094FF"/>
<circle cx="237.6" cy="533.7" r="2.95" fill="#0094FF"/>
<circle cx="188.8" cy="537.6" r="2.95" fill="#0094FF"/>
<circle cx="181.9" cy="538.9" r="2.95" fill="#0094FF"/>
<circle cx="186.1" cy="493.1" r="2.95" fill="#0094FF"/>
<circle cx="180.0" cy="501.9" r="2.95" fill="#0094FF"/>
<circle cx="168.9" cy="507.5" r="2.95" fill="#0094FF"/>
<circle cx="176.8" cy="509.6" r="2.95" fill="#0094FF"/>
<circle cx="191.7" cy="506.2" r="2.95" fill="#0094FF"/>
<circle cx="188.9" cy="510.3" r="2.95" fill="#0094FF"/>
<circle cx="192.3" cy="509.0" r="2.95" fill="#0094FF"/>
<circle cx="204.3" cy="503.4" r="2.95" fill="#0094FF"/>
<circle cx="204.8" cy="507.2" r="2.95" fill="#0094FF"/>
<circle cx="201.6" cy="510.9" r="2.95" fill="#0094FF"/>
<circle cx="212.3" cy="510.0" r="2.95" fill="#0094FF"/>
<circle cx="205.8" cy="515.0" r="2.95" fill="#0094FF"/>
<circle cx="186.5" cy="517.4" r="2.95" fill="#0094FF"/>
<circle cx="198.7" cy="519.3" r="2.95" fill="#0094FF"/>
<circle cx="204.3" cy="519.7" r="2.95" fill="#0094FF"/>
<circle cx="206.3" cy="522.1" r="2.95" fill="#0094FF"/>
<circle cx="225.9" cy="501.0" r="2.95" fill="#0094FF"/>
<circle cx="142.4" cy="514.8" r="2.95" fill="#0094FF"/>
<circle cx="138.2" cy="531.8" r="2.95" fill="#0018FF"/>
<circle cx="151.5" cy="526.8" r="2.95" fill="#0018FF"/>
<circle cx="229.1" cy="433.0" r="2.95" fill="#0018FF"/>
<circle cx="200.5" cy="473.0" r="2.95" fill="#0018FF"/>
<circle cx="199.2" cy="485.3" r="2.95" fill="#0018FF"/>
<circle cx="221.1" cy="498.7" r="2.95" fill="#0018FF"/>
<circle cx="246.4" cy="468.5" r="2.95" fill="#0018FF"/>
<circle cx="299.1" cy="484.7" r="2.95" fill="#0018FF"/>
<circle cx="258.0" cy="510.0" r="2.95" fill="#0018FF"/>
<circle cx="69.8" cy="535.6" r="2.95" fill="#7F00FF"/>
<circle cx="79.2" cy="577.1" r="2.95" fill="#7F00FF"/>
<circle cx="91.7" cy="587.5" r="2.95" fill="#7F00FF"/>
<circle cx="156.7" cy="573.5" r="2.95" fill="#7F00FF"/>
<circle cx="142.5" cy="598.2" r="2.95" fill="#7F00FF"/>
<circle cx="174.1" cy="564.2" r="2.95" fill="#7F00FF"/>
<circle cx="133.0" cy="566.0" r="2.95" fill="#7F00FF"/>
<circle cx="139.9" cy="571.6" r="2.95" fill="#7F00FF"/>
<circle cx="129.2" cy="574.5" r="2.95" fill="#7F00FF"/>
<circle cx="131.9" cy="573.1" r="2.95" fill="#7F00FF"/>
<circle cx="127.7" cy="582.9" r="2.95" fill="#7F00FF"/>
<circle cx="180.1" cy="526.8" r="2.95" fill="#7F00FF"/>
<circle cx="284.9" cy="537.1" r="2.95" fill="#7F00FF"/>
<circle cx="200.6" cy="554.6" r="2.95" fill="#7F00FF"/>
<circle cx="183.7" cy="455.8" r="2.95" fill="#7F00FF"/>
<circle cx="166.7" cy="480.8" r="2.95" fill="#7F00FF"/>
<circle cx="199.2" cy="476.3" r="2.95" fill="#7F00FF"/>
<circle cx="204.5" cy="491.8" r="2.95" fill="#7F00FF"/>
<circle cx="174.9" cy="494.1" r="2.95" fill="#7F00FF"/>
<circle cx="170.8" cy="499.1" r="2.95" fill="#7F00FF"/>
<circle cx="243.2" cy="478.9" r="2.95" fill="#7F00FF"/>
<circle cx="278.0" cy="509.2" r="2.95" fill="#7F00FF"/>
<circle cx="281.5" cy="513.3" r="2.95" fill="#7F00FF"/>
<circle cx="81.4" cy="601.0" r="2.95" fill="#D400FF"/>
<circle cx="100.1" cy="580.1" r="2.95" fill="#D400FF"/>
<circle cx="114.3" cy="585.7" r="2.95" fill="#D400FF"/>
<circle cx="113.7" cy="592.8" r="2.95" fill="#D400FF"/>
<circle cx="120.3" cy="590.3" r="2.95" fill="#D400FF"/>
<circle cx="137.6" cy="580.6" r="2.95" fill="#D400FF"/>
<circle cx="138.0" cy="566.6" r="2.95" fill="#D400FF"/>
</g>
<line x1="53.3" y1="654.2" x2="308.6" y2="398.95" stroke="#992222" stroke-width="1.2"/>
<rect x="53.3" y="398.95" width="255.3" height="255.25" fill="none" stroke="#2e2e2e" stroke-width="1.1"/>
<line x1="100.6" y1="654.2" x2="100.6" y2="662.6" stroke="#2e2e2e" stroke-width="1"/>
<text x="100.6" y="683.7" font-size="14.7" text-anchor="middle">2</text>
<line x1="44.9" y1="606.9" x2="53.3" y2="606.9" stroke="#2e2e2e" stroke-width="1"/>
<text transform="translate(33.4,606.9) rotate(-90)" font-size="14.7" text-anchor="middle">2</text>
<line x1="155.1" y1="654.2" x2="155.1" y2="662.6" stroke="#2e2e2e" stroke-width="1"/>
<text x="155.1" y="683.7" font-size="14.7" text-anchor="middle">4</text>
<line x1="44.9" y1="552.4" x2="53.3" y2="552.4" stroke="#2e2e2e" stroke-width="1"/>
<text transform="translate(33.4,552.4) rotate(-90)" font-size="14.7" text-anchor="middle">4</text>
<line x1="209.6" y1="654.2" x2="209.6" y2="662.6" stroke="#2e2e2e" stroke-width="1"/>
<text x="209.6" y="683.7" font-size="14.7" text-anchor="middle">6</text>
<line x1="44.9" y1="497.9" x2="53.3" y2="497.9" stroke="#2e2e2e" stroke-width="1"/>
<text transform="translate(33.4,497.9) rotate(-90)" font-size="14.7" text-anchor="middle">6</text>
<line x1="264.1" y1="654.2" x2="264.1" y2="662.6" stroke="#2e2e2e" stroke-width="1"/>
<text x="264.1" y="683.7" font-size="14.7" text-anchor="middle">8</text>
<line x1="44.9" y1="443.4" x2="53.3" y2="443.4" stroke="#2e2e2e" stroke-width="1"/>
<text transform="translate(33.4,443.4) rotate(-90)" font-size="14.7" text-anchor="middle">8</text>
<text x="121.9" y="361.7" font-size="16" font-weight="bold">c) Experiment 3</text>
<text x="146.4" y="382.4" font-size="16">(hindcast)</text>
<text x="59.9" y="420.4" font-size="13.5" stroke="#111" stroke-width="0.2" textLength="82.2" lengthAdjust="spacingAndGlyphs" xml:space="preserve">LCCC = 0.81</text>
<text x="59.9" y="437.9" font-size="13.5" stroke="#111" stroke-width="0.2" textLength="84.5" lengthAdjust="spacingAndGlyphs" xml:space="preserve">RMSE =  1.04</text>
<text transform="translate(13.6,523.0) rotate(-90)" font-size="15.3" text-anchor="middle" textLength="148.6" lengthAdjust="spacing">Predicted yield (t ha<tspan font-size="9.5" dy="-5.5">-1</tspan><tspan dy="5.5">)</tspan></text>
<text x="107.0" y="705.4" font-size="15.3" textLength="150.3" lengthAdjust="spacing">Observed yield (t ha<tspan font-size="9.5" dy="-5.5">-1</tspan><tspan dy="5.5">)</tspan></text>
</g>
<g id="panel-d">
<g>
<circle cx="396.8" cy="608.4" r="2.95" fill="#FF0000"/>
<circle cx="368.4" cy="637.9" r="2.95" fill="#FF0000"/>
<circle cx="388.3" cy="616.1" r="2.95" fill="#FF0000"/>
<circle cx="386.1" cy="620.0" r="2.95" fill="#FF0000"/>
<circle cx="380.5" cy="624.5" r="2.95" fill="#FF0000"/>
<circle cx="379.5" cy="625.4" r="2.95" fill="#FF0000"/>
<circle cx="385.1" cy="621.8" r="2.95" fill="#FF0000"/>
<circle cx="359.1" cy="646.2" r="2.95" fill="#FF0000"/>
<circle cx="397.8" cy="607.4" r="2.95" fill="#FF0000"/>
<circle cx="408.0" cy="597.9" r="2.95" fill="#FF0000"/>
<circle cx="418.2" cy="588.0" r="2.95" fill="#FF0000"/>
<circle cx="432.2" cy="573.1" r="2.95" fill="#FF0000"/>
<circle cx="442.2" cy="563.6" r="2.95" fill="#FF0000"/>
<circle cx="441.3" cy="563.2" r="2.95" fill="#FF0000"/>
<circle cx="427.5" cy="577.4" r="2.95" fill="#FF0000"/>
<circle cx="424.2" cy="580.7" r="2.95" fill="#FF0000"/>
<circle cx="461.3" cy="542.8" r="2.95" fill="#FF0000"/>
<circle cx="463.2" cy="540.8" r="2.95" fill="#FF0000"/>
<circle cx="406.5" cy="597.3" r="2.95" fill="#FF7000"/>
<circle cx="359.1" cy="645.8" r="2.95" fill="#FF7000"/>
<circle cx="369.7" cy="635.3" r="2.95" fill="#FF7000"/>
<circle cx="371.7" cy="633.1" r="2.95" fill="#FF7000"/>
<circle cx="386.1" cy="619.2" r="2.95" fill="#FF7000"/>
<circle cx="396.3" cy="607.7" r="2.95" fill="#FF7000"/>
<circle cx="491.3" cy="514.1" r="2.95" fill="#FF7000"/>
<circle cx="438.7" cy="566.8" r="2.95" fill="#FFE100"/>
<circle cx="440.0" cy="566.0" r="2.95" fill="#FFE100"/>
<circle cx="446.5" cy="558.1" r="2.95" fill="#FFE100"/>
<circle cx="446.1" cy="558.8" r="2.95" fill="#FFE100"/>
<circle cx="445.5" cy="557.9" r="2.95" fill="#FFE100"/>
<circle cx="434.4" cy="570.4" r="2.95" fill="#FFE100"/>
<circle cx="437.2" cy="566.1" r="2.95" fill="#FFE100"/>
<circle cx="457.3" cy="546.8" r="2.95" fill="#FFE100"/>
<circle cx="456.1" cy="550.2" r="2.95" fill="#FFE100"/>
<circle cx="471.6" cy="531.8" r="2.95" fill="#FFE100"/>
<circle cx="466.0" cy="540.1" r="2.95" fill="#FFE100"/>
<circle cx="468.8" cy="536.9" r="2.95" fill="#FFE100"/>
<circle cx="453.0" cy="552.1" r="2.95" fill="#FFE100"/>
<circle cx="515.6" cy="490.2" r="2.95" fill="#FFE100"/>
<circle cx="544.6" cy="461.4" r="2.95" fill="#FFE100"/>
<circle cx="485.5" cy="520.8" r="2.95" fill="#FFE100"/>
<circle cx="480.9" cy="524.3" r="2.95" fill="#FFE100"/>
<circle cx="477.1" cy="527.7" r="2.95" fill="#FFE100"/>
<circle cx="479.9" cy="524.9" r="2.95" fill="#FFE100"/>
<circle cx="462.4" cy="542.1" r="2.95" fill="#FFE100"/>
<circle cx="504.9" cy="500.5" r="2.95" fill="#FFE100"/>
<circle cx="479.5" cy="525.2" r="2.95" fill="#FFE100"/>
<circle cx="504.9" cy="501.5" r="2.95" fill="#FFE100"/>
<circle cx="562.7" cy="441.2" r="2.95" fill="#FFE100"/>
<circle cx="374.5" cy="629.6" r="2.95" fill="#99FF00"/>
<circle cx="377.7" cy="626.6" r="2.95" fill="#99FF00"/>
<circle cx="383.3" cy="620.0" r="2.95" fill="#99FF00"/>
<circle cx="380.1" cy="626.8" r="2.95" fill="#99FF00"/>
<circle cx="367.5" cy="635.5" r="2.95" fill="#99FF00"/>
<circle cx="399.6" cy="605.3" r="2.95" fill="#99FF00"/>
<circle cx="399.1" cy="605.7" r="2.95" fill="#99FF00"/>
<circle cx="407.4" cy="599.3" r="2.95" fill="#99FF00"/>
<circle cx="406.9" cy="596.6" r="2.95" fill="#99FF00"/>
<circle cx="416.2" cy="590.0" r="2.95" fill="#99FF00"/>
<circle cx="418.6" cy="586.0" r="2.95" fill="#99FF00"/>
<circle cx="420.1" cy="585.0" r="2.95" fill="#99FF00"/>
<circle cx="427.9" cy="576.8" r="2.95" fill="#99FF00"/>
<circle cx="410.2" cy="595.6" r="2.95" fill="#99FF00"/>
<circle cx="361.5" cy="642.6" r="2.95" fill="#00FFFF"/>
<circle cx="373.6" cy="631.5" r="2.95" fill="#00FFFF"/>
<circle cx="375.3" cy="630.2" r="2.95" fill="#00FFFF"/>
<circle cx="391.3" cy="615.6" r="2.95" fill="#0094FF"/>
<circle cx="403.9" cy="599.2" r="2.95" fill="#0094FF"/>
<circle cx="418.0" cy="588.6" r="2.95" fill="#0094FF"/>
<circle cx="421.9" cy="584.2" r="2.95" fill="#0094FF"/>
<circle cx="428.4" cy="576.4" r="2.95" fill="#0094FF"/>
<circle cx="440.3" cy="565.2" r="2.95" fill="#0094FF"/>
<circle cx="439.6" cy="565.3" r="2.95" fill="#0094FF"/>
<circle cx="450.2" cy="556.6" r="2.95" fill="#0094FF"/>
<circle cx="451.3" cy="554.2" r="2.95" fill="#0094FF"/>
<circle cx="452.1" cy="553.1" r="2.95" fill="#0094FF"/>
<circle cx="464.5" cy="540.6" r="2.95" fill="#0094FF"/>
<circle cx="468.8" cy="536.4" r="2.95" fill="#0094FF"/>
<circle cx="470.6" cy="534.6" r="2.95" fill="#0094FF"/>
<circle cx="463.6" cy="541.0" r="2.95" fill="#0094FF"/>
<circle cx="467.3" cy="539.9" r="2.95" fill="#0094FF"/>
<circle cx="475.3" cy="528.4" r="2.95" fill="#0094FF"/>
<circle cx="476.8" cy="525.4" r="2.95" fill="#0094FF"/>
<circle cx="422.3" cy="582.8" r="2.95" fill="#0094FF"/>
<circle cx="507.8" cy="497.5" r="2.95" fill="#0094FF"/>
<circle cx="533.5" cy="472.4" r="2.95" fill="#0094FF"/>
<circle cx="485.0" cy="520.3" r="2.95" fill="#0094FF"/>
<circle cx="478.1" cy="527.2" r="2.95" fill="#0094FF"/>
<circle cx="482.3" cy="523.4" r="2.95" fill="#0094FF"/>
<circle cx="476.1" cy="530.1" r="2.95" fill="#0094FF"/>
<circle cx="465.2" cy="539.8" r="2.95" fill="#0094FF"/>
<circle cx="473.0" cy="532.1" r="2.95" fill="#0094FF"/>
<circle cx="487.8" cy="519.3" r="2.95" fill="#0094FF"/>
<circle cx="485.1" cy="520.8" r="2.95" fill="#0094FF"/>
<circle cx="488.4" cy="516.1" r="2.95" fill="#0094FF"/>
<circle cx="500.3" cy="507.2" r="2.95" fill="#0094FF"/>
<circle cx="500.9" cy="505.3" r="2.95" fill="#0094FF"/>
<circle cx="497.7" cy="507.2" r="2.95" fill="#0094FF"/>
<circle cx="508.3" cy="496.1" r="2.95" fill="#0094FF"/>
<circle cx="501.8" cy="503.9" r="2.95" fill="#0094FF"/>
<circle cx="482.6" cy="522.0" r="2.95" fill="#0094FF"/>
<circle cx="494.7" cy="509.7" r="2.95" fill="#0094FF"/>
<circle cx="500.3" cy="504.0" r="2.95" fill="#0094FF"/>
<circle cx="502.3" cy="502.6" r="2.95" fill="#0094FF"/>
<circle cx="521.9" cy="484.6" r="2.95" fill="#0094FF"/>
<circle cx="438.8" cy="566.1" r="2.95" fill="#0094FF"/>
<circle cx="434.6" cy="569.4" r="2.95" fill="#0018FF"/>
<circle cx="447.8" cy="558.1" r="2.95" fill="#0018FF"/>
<circle cx="525.0" cy="480.5" r="2.95" fill="#0018FF"/>
<circle cx="496.6" cy="509.6" r="2.95" fill="#0018FF"/>
<circle cx="495.3" cy="511.2" r="2.95" fill="#0018FF"/>
<circle cx="517.0" cy="488.3" r="2.95" fill="#0018FF"/>
<circle cx="542.2" cy="463.2" r="2.95" fill="#0018FF"/>
<circle cx="594.6" cy="410.9" r="2.95" fill="#0018FF"/>
<circle cx="553.7" cy="450.8" r="2.95" fill="#0018FF"/>
<circle cx="366.5" cy="639.2" r="2.95" fill="#7F00FF"/>
<circle cx="375.8" cy="630.6" r="2.95" fill="#7F00FF"/>
<circle cx="388.3" cy="617.1" r="2.95" fill="#7F00FF"/>
<circle cx="453.0" cy="552.1" r="2.95" fill="#7F00FF"/>
<circle cx="438.9" cy="566.2" r="2.95" fill="#7F00FF"/>
<circle cx="470.3" cy="534.4" r="2.95" fill="#7F00FF"/>
<circle cx="429.4" cy="575.2" r="2.95" fill="#7F00FF"/>
<circle cx="436.2" cy="568.7" r="2.95" fill="#7F00FF"/>
<circle cx="425.7" cy="578.9" r="2.95" fill="#7F00FF"/>
<circle cx="428.3" cy="576.6" r="2.95" fill="#7F00FF"/>
<circle cx="424.2" cy="579.7" r="2.95" fill="#7F00FF"/>
<circle cx="476.2" cy="529.5" r="2.95" fill="#7F00FF"/>
<circle cx="580.5" cy="425.1" r="2.95" fill="#7F00FF"/>
<circle cx="496.7" cy="507.7" r="2.95" fill="#7F00FF"/>
<circle cx="479.8" cy="523.5" r="2.95" fill="#7F00FF"/>
<circle cx="462.9" cy="542.4" r="2.95" fill="#7F00FF"/>
<circle cx="495.3" cy="511.1" r="2.95" fill="#7F00FF"/>
<circle cx="500.5" cy="504.3" r="2.95" fill="#7F00FF"/>
<circle cx="471.1" cy="533.8" r="2.95" fill="#7F00FF"/>
<circle cx="467.0" cy="537.8" r="2.95" fill="#7F00FF"/>
<circle cx="539.1" cy="467.0" r="2.95" fill="#7F00FF"/>
<circle cx="573.6" cy="431.1" r="2.95" fill="#7F00FF"/>
<circle cx="577.2" cy="429.3" r="2.95" fill="#7F00FF"/>
<circle cx="378.1" cy="626.8" r="2.95" fill="#D400FF"/>
<circle cx="396.7" cy="609.4" r="2.95" fill="#D400FF"/>
<circle cx="410.8" cy="594.5" r="2.95" fill="#D400FF"/>
<circle cx="410.2" cy="594.8" r="2.95" fill="#D400FF"/>
<circle cx="416.7" cy="587.2" r="2.95" fill="#D400FF"/>
<circle cx="434.0" cy="570.6" r="2.95" fill="#D400FF"/>
<circle cx="434.4" cy="570.7" r="2.95" fill="#D400FF"/>
</g>
<line x1="350.1" y1="655.0" x2="604.1" y2="401.55" stroke="#992222" stroke-width="1.2"/>
<rect x="350.1" y="401.55" width="254.0" height="253.45" fill="none" stroke="#2e2e2e" stroke-width="1.1"/>
<line x1="397.2" y1="655.0" x2="397.2" y2="663.4" stroke="#2e2e2e" stroke-width="1"/>
<text x="397.2" y="684.4" font-size="14.7" text-anchor="middle">2</text>
<line x1="341.7" y1="608.0" x2="350.1" y2="608.0" stroke="#2e2e2e" stroke-width="1"/>
<text transform="translate(330.3,608.0) rotate(-90)" font-size="14.7" text-anchor="middle">2</text>
<line x1="451.4" y1="655.0" x2="451.4" y2="663.4" stroke="#2e2e2e" stroke-width="1"/>
<text x="451.4" y="684.4" font-size="14.7" text-anchor="middle">4</text>
<line x1="341.7" y1="553.9" x2="350.1" y2="553.9" stroke="#2e2e2e" stroke-width="1"/>
<text transform="translate(330.3,553.9) rotate(-90)" font-size="14.7" text-anchor="middle">4</text>
<line x1="505.6" y1="655.0" x2="505.6" y2="663.4" stroke="#2e2e2e" stroke-width="1"/>
<text x="505.6" y="684.4" font-size="14.7" text-anchor="middle">6</text>
<line x1="341.7" y1="499.8" x2="350.1" y2="499.8" stroke="#2e2e2e" stroke-width="1"/>
<text transform="translate(330.3,499.8) rotate(-90)" font-size="14.7" text-anchor="middle">6</text>
<line x1="559.9" y1="655.0" x2="559.9" y2="663.4" stroke="#2e2e2e" stroke-width="1"/>
<text x="559.9" y="684.4" font-size="14.7" text-anchor="middle">8</text>
<line x1="341.7" y1="445.7" x2="350.1" y2="445.7" stroke="#2e2e2e" stroke-width="1"/>
<text transform="translate(330.3,445.7) rotate(-90)" font-size="14.7" text-anchor="middle">8</text>
<text x="413.2" y="366.3" font-size="16" font-weight="bold">d) Experiment 4</text>
<text x="399.6" y="385.5" font-size="16">(spatial interpolation)</text>
<text x="358.0" y="422.4" font-size="13.5" stroke="#111" stroke-width="0.2" textLength="82.2" lengthAdjust="spacingAndGlyphs" xml:space="preserve">LCCC = 1.00</text>
<text x="358.0" y="440.2" font-size="13.5" stroke="#111" stroke-width="0.2" textLength="82.2" lengthAdjust="spacingAndGlyphs" xml:space="preserve">RMSE = 0.04</text>
<text x="402.6" y="705.4" font-size="15.3" textLength="150.3" lengthAdjust="spacing">Observed yield (t ha<tspan font-size="9.5" dy="-5.5">-1</tspan><tspan dy="5.5">)</tspan></text>
</g>
<g id="legend">
<circle cx="631.2" cy="278.0" r="3.75" fill="#FF0000"/>
<text x="646.3" y="284.4" font-size="17.2">2014</text>
<circle cx="631.2" cy="298.4" r="3.75" fill="#FF7000"/>
<text x="646.3" y="304.8" font-size="17.2">2015</text>
<circle cx="631.2" cy="318.6" r="3.75" fill="#FFE100"/>
<text x="646.3" y="325.0" font-size="17.2">2016</text>
<circle cx="631.2" cy="339.2" r="3.75" fill="#99FF00"/>
<text x="646.3" y="345.6" font-size="17.2">2017</text>
<circle cx="631.2" cy="361.7" r="3.75" fill="#00FFFF"/>
<text x="646.3" y="368.1" font-size="17.2">2019</text>
<circle cx="631.2" cy="382.3" r="3.75" fill="#0094FF"/>
<text x="646.3" y="388.7" font-size="17.2">2020</text>
<circle cx="631.2" cy="402.6" r="3.75" fill="#0018FF"/>
<text x="646.3" y="409.0" font-size="17.2">2021</text>
<circle cx="631.2" cy="423.1" r="3.75" fill="#7F00FF"/>
<text x="646.3" y="429.5" font-size="17.2">2022</text>
<circle cx="631.2" cy="443.2" r="3.75" fill="#D400FF"/>
<text x="646.3" y="449.6" font-size="17.2">2023</text>
</g>
</svg></body></html>
